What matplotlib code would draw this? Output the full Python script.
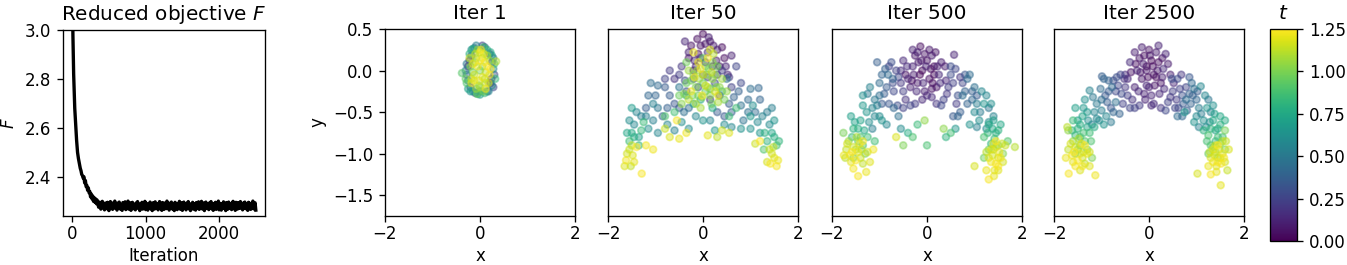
import numpy as np
import matplotlib
matplotlib.use('Agg')
import matplotlib.pyplot as plt
from matplotlib.colors import Normalize
from matplotlib.cm import ScalarMappable

# ---- objective curve ----
iter_head = [0, 5, 10, 15, 20, 27, 35, 50, 60, 73, 85, 100, 110, 120, 130, 140,
             150, 160, 170, 180, 190, 200, 210, 220, 230, 240,
             250, 260, 270, 280, 290, 300, 310, 320, 330, 340]
F_head = [3.40, 3.15, 2.98, 2.90, 2.82, 2.75, 2.68, 2.60, 2.55, 2.50, 2.475, 2.45, 2.435, 2.425, 2.41, 2.405,
          2.395, 2.400, 2.375, 2.385, 2.360, 2.365, 2.345, 2.355, 2.335, 2.340,
          2.318, 2.330, 2.310, 2.322, 2.300, 2.315, 2.296, 2.310, 2.290, 2.305]
iter_tail = list(range(350, 2501, 10))
F_tail = [2.291, 2.276, 2.297, 2.281, 2.268, 2.289, 2.300, 2.274, 2.286, 2.265,
          2.293, 2.279, 2.270, 2.296, 2.284, 2.262, 2.288, 2.299, 2.273, 2.282,
          2.267, 2.294, 2.278, 2.301, 2.271, 2.285, 2.264, 2.292, 2.280, 2.297,
          2.269, 2.287, 2.275, 2.263, 2.295, 2.283, 2.272, 2.298, 2.266, 2.290,
          2.277, 2.301, 2.268, 2.286, 2.294, 2.263, 2.281, 2.296, 2.270, 2.288,
          2.274, 2.265, 2.293, 2.282, 2.299, 2.271, 2.287, 2.262, 2.290, 2.279,
          2.296, 2.268, 2.284, 2.273, 2.300, 2.266, 2.292, 2.281, 2.264, 2.289,
          2.276, 2.297, 2.270, 2.285, 2.262, 2.294, 2.279, 2.268, 2.298, 2.283,
          2.271, 2.290, 2.265, 2.287, 2.299, 2.274, 2.282, 2.263, 2.295, 2.278,
          2.267, 2.293, 2.284, 2.270, 2.301, 2.276, 2.289, 2.264, 2.292, 2.280,
          2.297, 2.269, 2.286, 2.273, 2.262, 2.296, 2.281, 2.291, 2.266, 2.288,
          2.275, 2.300, 2.268, 2.284, 2.294, 2.263, 2.279, 2.297, 2.271, 2.287,
          2.265, 2.292, 2.277, 2.299, 2.270, 2.285, 2.262, 2.290, 2.282, 2.296,
          2.268, 2.288, 2.274, 2.264, 2.295, 2.283, 2.271, 2.298, 2.267, 2.291,
          2.278, 2.300, 2.269, 2.286, 2.293, 2.262, 2.280, 2.297, 2.272, 2.289,
          2.275, 2.266, 2.294, 2.283, 2.299, 2.270, 2.288, 2.263, 2.291, 2.279,
          2.296, 2.267, 2.285, 2.273, 2.301, 2.265, 2.292, 2.281, 2.264, 2.290,
          2.277, 2.298, 2.270, 2.286, 2.262, 2.295, 2.280, 2.268, 2.297, 2.284,
          2.272, 2.291, 2.266, 2.288, 2.300, 2.274, 2.283, 2.263, 2.296, 2.279,
          2.268, 2.294, 2.285, 2.271, 2.299, 2.276, 2.290, 2.265, 2.293, 2.281,
          2.297, 2.270, 2.287, 2.274, 2.263, 2.296, 2.282, 2.292, 2.267, 2.289,
          2.276, 2.301, 2.269, 2.285, 2.294, 2.264]

# ---- particle snapshots: (x, y, t) ----
iter1_pts = [
    (-0.25, 0.05, 0.05), (0.22, -0.15, 0.10), (0.25, 0.10, 0.15), (-0.20, -0.20, 0.20), (0.05, 0.30, 0.25),
    (0.30, -0.05, 0.30), (-0.28, -0.05, 0.35), (0.15, -0.25, 0.40), (-0.12, 0.27, 0.45), (0.20, 0.20, 0.12),
    (-0.18, 0.18, 0.22), (0.00, -0.25, 0.32), (-0.25, -0.12, 0.42), (0.28, -0.20, 0.28),
    (-0.22, 0.12, 0.08), (0.24, -0.10, 0.18), (-0.10, -0.27, 0.26), (0.10, 0.28, 0.34), (0.28, 0.15, 0.44),
    (-0.30, 0.00, 0.55), (0.28, 0.02, 0.60), (-0.15, -0.25, 0.65), (0.00, -0.29, 0.70), (0.22, 0.22, 0.75),
    (-0.22, 0.20, 0.80), (0.08, 0.28, 0.85), (-0.28, -0.15, 0.90), (0.25, -0.18, 0.58), (-0.05, -0.28, 0.68),
    (0.15, 0.25, 0.78), (-0.18, 0.25, 0.62), (0.30, 0.08, 0.88), (-0.25, -0.22, 0.72), (-0.38, -0.03, 0.92),
    (0.10, -0.27, 0.82), (-0.08, 0.30, 0.52),
    (-0.28, 0.08, 0.50), (0.18, -0.25, 0.56), (-0.20, -0.25, 0.64), (0.25, 0.18, 0.70), (-0.15, 0.26, 0.76),
    (0.32, -0.10, 0.84), (-0.30, -0.10, 0.94),
    (0.00, 0.00, 1.00), (-0.10, 0.10, 1.05), (0.10, -0.10, 1.10), (0.05, 0.15, 1.15), (-0.12, -0.12, 1.20),
    (0.15, 0.05, 1.25), (-0.15, -0.02, 0.98), (0.00, -0.20, 1.08), (0.08, 0.20, 1.18), (-0.05, 0.05, 1.22),
    (0.12, -0.02, 1.12), (-0.20, 0.05, 1.02), (0.18, -0.15, 1.16), (0.00, 0.12, 1.25), (-0.08, -0.22, 1.06),
    (0.05, -0.08, 1.20), (-0.10, 0.20, 1.14), (0.20, 0.12, 1.04), (0.34, 0.11, 1.10), (-0.06, -0.28, 0.96),
    (0.02, 0.25, 1.24), (-0.18, -0.15, 1.18), (0.12, -0.22, 1.22), (-0.02, -0.12, 1.16),
    (0.05, 0.05, 1.01), (-0.08, 0.15, 1.07), (0.12, -0.15, 1.13), (-0.15, 0.08, 1.19), (0.10, 0.10, 1.23),
    (-0.02, -0.18, 1.03), (0.15, 0.18, 1.09), (-0.12, -0.05, 1.15), (0.20, -0.05, 1.21), (-0.18, -0.10, 1.11),
    (0.00, 0.22, 1.17), (0.08, -0.25, 0.99), (-0.05, 0.25, 1.05), (0.22, 0.02, 1.25), (-0.22, 0.15, 1.13),
]

iter50_pts = [
    (0.00, 0.44, 0.02), (-0.25, 0.30, 0.05), (0.15, 0.35, 0.08), (-0.10, 0.20, 0.03), (0.30, 0.25, 0.10),
    (0.05, 0.10, 0.12), (-0.30, 0.15, 0.06), (0.45, 0.15, 0.04), (0.20, 0.05, 0.09), (-0.15, 0.05, 0.14),
    (0.60, 0.18, 0.11), (-0.38, 0.35, 0.13), (0.35, 0.05, 0.07), (-0.05, 0.30, 0.05), (0.10, 0.22, 0.15),
    (-0.20, 0.00, 0.10), (0.52, -0.05, 0.12),
    (-0.12, 0.38, 0.04), (0.22, 0.30, 0.09), (-0.30, 0.22, 0.11), (0.40, 0.28, 0.03), (0.05, 0.32, 0.06),
    (-0.18, 0.12, 0.13), (0.28, 0.12, 0.08), (-0.05, 0.15, 0.14), (0.12, 0.40, 0.10), (0.48, 0.05, 0.12),
    (-0.45, 0.05, 0.20), (0.40, 0.00, 0.22), (-0.20, -0.10, 0.25), (0.25, -0.15, 0.28), (-0.60, -0.10, 0.18),
    (0.60, -0.20, 0.24), (0.00, -0.05, 0.27), (-0.35, -0.25, 0.30), (0.35, -0.30, 0.23), (0.70, 0.05, 0.26),
    (-0.70, 0.00, 0.21), (0.15, -0.35, 0.19),
    (-0.50, -0.05, 0.22), (0.55, -0.08, 0.20), (-0.10, -0.20, 0.26), (0.10, -0.08, 0.23), (-0.38, -0.12, 0.28),
    (0.30, -0.05, 0.21), (-0.80, -0.10, 0.25), (0.80, -0.15, 0.27),
    (-0.80, -0.20, 0.35), (0.75, -0.25, 0.38), (-1.00, -0.30, 0.40), (0.95, -0.35, 0.42), (-0.60, -0.40, 0.33),
    (0.55, -0.40, 0.36), (-1.10, -0.15, 0.44), (1.17, -0.21, 0.41), (-0.40, -0.50, 0.45), (0.45, -0.55, 0.34),
    (-1.20, -0.45, 0.37), (1.10, -0.50, 0.43), (-0.85, -0.55, 0.39), (0.85, -0.60, 0.47), (-0.50, -0.20, 0.48),
    (0.50, -0.10, 0.46),
    (-0.70, -0.30, 0.36), (0.65, -0.32, 0.39), (-0.95, -0.18, 0.42), (1.00, -0.22, 0.44), (-0.50, -0.45, 0.34),
    (0.60, -0.50, 0.37), (-1.15, -0.30, 0.41), (1.20, -0.35, 0.40), (-0.30, -0.45, 0.43), (0.30, -0.50, 0.35),
    (-0.75, -0.45, 0.38), (0.80, -0.42, 0.46), (-0.95, -0.45, 0.48), (0.95, -0.50, 0.45),
    (-1.30, -0.55, 0.52), (1.25, -0.55, 0.55), (-1.45, -0.65, 0.58), (1.40, -0.65, 0.60), (-1.15, -0.70, 0.62),
    (1.20, -0.75, 0.65), (-1.50, -0.45, 0.68), (1.45, -0.45, 0.53), (-0.95, -0.75, 0.57), (1.00, -0.70, 0.63),
    (-0.30, -0.70, 0.60), (0.25, -0.72, 0.66), (-0.60, -0.72, 0.55), (0.60, -0.68, 0.58), (-1.05, -0.40, 0.54),
    (1.05, -0.42, 0.61), (0.00, -0.60, 0.64), (-1.35, -0.80, 0.70),
    (-1.40, -0.50, 0.56), (1.35, -0.50, 0.51), (-1.20, -0.55, 0.53), (1.15, -0.62, 0.59), (-1.55, -0.60, 0.61),
    (1.50, -0.60, 0.64), (-0.75, -0.65, 0.57), (0.80, -0.70, 0.63), (-1.05, -0.60, 0.54), (1.00, -0.55, 0.66),
    (-0.45, -0.62, 0.62), (0.45, -0.65, 0.60), (-0.15, -0.55, 0.58), (0.15, -0.60, 0.56),
    (-1.50, -0.75, 0.75), (1.50, -0.80, 0.78), (-1.35, -0.90, 0.82), (1.35, -0.85, 0.80), (-1.55, -0.85, 0.85),
    (1.55, -0.90, 0.88), (-0.80, -0.55, 0.90), (0.70, -0.45, 0.86), (-0.20, -0.40, 0.72), (0.20, -0.45, 0.76),
    (-1.25, -0.62, 0.84), (1.28, -0.95, 0.90),
    (-1.45, -0.80, 0.77), (1.45, -0.75, 0.73), (-1.60, -0.75, 0.74), (1.60, -0.85, 0.81), (-1.30, -0.72, 0.83),
    (1.30, -0.75, 0.79), (-0.60, -0.50, 0.87), (0.55, -0.55, 0.85), (-0.35, -0.30, 0.78), (0.40, -0.25, 0.80),
    (-0.05, -0.35, 0.75), (0.15, -0.22, 0.88),
    (0.00, -0.15, 0.95), (-0.20, -0.05, 1.00), (0.20, -0.10, 1.05), (-0.10, -0.30, 0.98), (0.15, -0.30, 1.02),
    (-0.35, -0.15, 0.96), (0.35, -0.20, 1.04), (0.05, 0.05, 1.00), (-0.05, -0.45, 1.08), (0.30, 0.05, 0.97),
    (-0.30, 0.00, 1.06), (0.10, -0.20, 1.10), (-0.15, -0.20, 1.01), (0.45, -0.35, 0.99), (-0.45, -0.40, 1.03),
    (0.05, -0.25, 0.94), (-0.25, -0.12, 0.99), (0.25, -0.05, 1.03), (-0.08, -0.10, 1.06), (0.18, -0.40, 0.97),
    (-0.40, -0.28, 1.01), (0.40, -0.10, 1.07), (0.00, 0.15, 0.95), (-0.15, -0.40, 1.09), (0.20, 0.10, 1.02),
    (-0.35, 0.10, 0.98), (0.08, -0.05, 1.04), (-0.22, -0.30, 1.00), (0.50, -0.25, 1.05), (-0.50, -0.30, 0.96),
    (0.32, -0.38, 1.08), (-0.02, -0.32, 1.03), (0.12, 0.02, 0.99), (-0.12, 0.00, 1.07), (0.28, -0.20, 1.01),
    (0.00, -0.05, 1.15), (-0.10, 0.10, 1.20), (0.25, -0.25, 1.18), (-0.25, -0.25, 1.22), (0.10, 0.15, 1.25),
    (-1.50, -0.90, 1.12), (-1.60, -1.00, 1.16), (-1.45, -1.10, 1.20), (-1.29, -1.24, 1.24), (-1.65, -1.15, 1.18),
    (1.40, -0.95, 1.14), (1.50, -1.05, 1.19), (1.55, -1.15, 1.23), (1.35, -1.10, 1.17), (-0.80, -0.70, 1.15),
    (-0.50, -0.82, 1.21), (0.30, -0.80, 1.13), (0.55, -0.75, 1.19), (-1.05, -0.95, 1.22), (1.20, -0.85, 1.25),
    (0.15, 0.25, 1.17), (-0.20, 0.22, 1.21),
    (0.05, -0.18, 1.16), (-0.18, -0.08, 1.21), (0.18, -0.02, 1.14), (-0.05, 0.02, 1.23), (0.32, -0.30, 1.19),
    (-0.30, -0.35, 1.12), (-0.02, -0.30, 1.25), (0.22, 0.20, 1.11), (-1.55, -0.95, 1.14), (-1.48, -1.02, 1.18),
    (-1.62, -1.08, 1.22), (-1.40, -0.92, 1.25), (-1.52, -1.15, 1.13), (1.45, -1.00, 1.16), (1.58, -1.08, 1.21),
    (1.42, -1.12, 1.24), (1.48, -0.92, 1.12), (-0.70, -0.80, 1.18), (-0.35, -0.75, 1.22), (0.40, -0.72, 1.16),
    (0.10, -0.78, 1.20), (-1.20, -0.90, 1.23), (1.10, -0.88, 1.15), (-0.55, -0.60, 1.24),
]

iter500_pts = [
    (-0.10, 0.00, 0.02), (0.05, -0.10, 0.05), (-0.20, -0.15, 0.08), (0.15, 0.05, 0.03), (-0.05, -0.25, 0.10),
    (-0.30, 0.05, 0.12), (0.20, -0.20, 0.06), (-0.14, 0.29, 0.04), (0.10, 0.18, 0.09), (0.25, -0.05, 0.14),
    (-0.35, -0.20, 0.11), (0.00, -0.30, 0.13), (-0.25, 0.18, 0.07), (0.00, 0.12, 0.05), (0.57, 0.19, 0.12),
    (-0.42, 0.05, 0.15), (0.30, 0.10, 0.10), (-0.40, -0.10, 0.13), (0.10, -0.32, 0.15), (-0.15, -0.05, 0.01),
    (-0.05, 0.20, 0.06), (0.12, -0.15, 0.03), (-0.28, -0.05, 0.09), (-0.50, 0.12, 0.14),
    (0.08, 0.02, 0.04), (-0.18, 0.10, 0.09), (0.22, 0.05, 0.11), (-0.32, -0.12, 0.03), (0.10, -0.22, 0.06),
    (-0.08, -0.15, 0.13), (0.05, 0.25, 0.08), (-0.22, -0.25, 0.14), (0.28, -0.15, 0.15), (-0.45, -0.05, 0.05),
    (0.38, 0.05, 0.09), (-0.02, 0.05, 0.12), (-0.20, 0.22, 0.10), (-0.10, -0.35, 0.14), (-0.55, 0.00, 0.15),
    (0.40, -0.12, 0.13), (-0.12, 0.12, 0.07), (0.15, -0.05, 0.02), (-0.30, 0.25, 0.11), (0.18, 0.22, 0.06),
    (-0.55, -0.15, 0.20), (0.45, -0.20, 0.22), (-0.65, 0.00, 0.25), (0.50, -0.05, 0.28), (-0.45, -0.35, 0.18),
    (0.35, -0.35, 0.24), (-0.70, -0.25, 0.27), (0.65, -0.30, 0.30), (-0.80, 0.05, 0.23), (0.60, 0.02, 0.26),
    (-0.25, -0.40, 0.21), (0.20, -0.40, 0.19), (-0.62, -0.42, 0.29), (0.75, -0.15, 0.25),
    (-0.50, -0.25, 0.22), (0.42, -0.28, 0.20), (-0.60, -0.08, 0.26), (0.55, -0.15, 0.23), (-0.72, -0.15, 0.28),
    (0.62, -0.40, 0.21), (-0.35, -0.42, 0.25), (0.30, -0.42, 0.27), (-0.75, 0.10, 0.30), (0.70, -0.08, 0.19),
    (-0.50, -0.45, 0.24), (0.50, 0.05, 0.29),
    (-0.85, -0.20, 0.35), (0.80, -0.25, 0.38), (-0.95, -0.05, 0.40), (0.85, -0.10, 0.42), (-0.80, -0.40, 0.33),
    (0.70, -0.50, 0.36), (-1.00, -0.30, 0.44), (0.95, -0.35, 0.41), (-0.60, -0.55, 0.45), (0.55, -0.55, 0.34),
    (-1.05, 0.10, 0.37), (0.90, -0.05, 0.43), (-0.72, -0.10, 0.39), (1.00, -0.20, 0.45),
    (-0.90, -0.28, 0.36), (0.85, -0.40, 0.39), (-0.82, -0.05, 0.42), (0.75, -0.30, 0.44), (-0.95, -0.40, 0.34),
    (0.95, -0.25, 0.37), (-0.70, -0.45, 0.41), (0.65, -0.55, 0.40), (-1.00, -0.15, 0.43), (1.05, -0.30, 0.35),
    (-0.88, 0.02, 0.38), (0.80, -0.05, 0.33),
    (-1.10, -0.35, 0.50), (1.05, -0.40, 0.52), (-1.20, -0.20, 0.55), (1.15, -0.25, 0.58), (-1.00, -0.55, 0.60),
    (1.10, -0.60, 0.62), (-1.27, -0.50, 0.65), (1.30, -0.45, 0.48), (-0.85, -0.65, 0.57), (0.90, -0.65, 0.63),
    (-1.15, -0.70, 0.53), (1.25, -0.70, 0.60), (-1.35, -0.30, 0.62), (1.40, -0.55, 0.55), (-0.55, -0.70, 0.60),
    (0.60, -0.70, 0.65),
    (-1.15, -0.45, 0.56), (1.12, -0.50, 0.51), (-1.05, -0.42, 0.53), (1.00, -0.50, 0.59), (-1.22, -0.62, 0.61),
    (1.20, -0.40, 0.64), (-1.25, -0.28, 0.49), (1.25, -0.30, 0.57), (-0.95, -0.60, 0.63), (1.05, -0.68, 0.54),
    (-1.35, -0.42, 0.66), (1.35, -0.40, 0.62), (-1.10, -0.55, 0.58), (1.30, -0.62, 0.60),
    (-1.40, -0.60, 0.72), (1.30, -0.65, 0.75), (-1.55, -0.70, 0.80), (1.45, -0.75, 0.78), (-1.25, -0.80, 0.85),
    (1.20, -0.80, 0.88), (-1.60, -0.55, 0.70), (1.55, -0.65, 0.74), (-1.35, -0.90, 0.90), (1.35, -0.88, 0.82),
    (-0.40, -0.75, 0.76), (0.40, -0.80, 0.80), (-0.20, -0.65, 0.84), (-1.10, -0.85, 0.86), (0.00, -0.90, 0.88),
    (1.70, -0.85, 0.90),
    (-1.45, -0.70, 0.77), (1.38, -0.70, 0.73), (-1.32, -0.72, 0.74), (1.28, -0.75, 0.81), (-1.58, -0.80, 0.83),
    (1.50, -0.72, 0.79), (-1.40, -0.80, 0.87), (1.42, -0.82, 0.85), (-1.52, -0.62, 0.71), (1.40, -0.60, 0.70),
    (-0.30, -0.80, 0.89), (0.50, -0.75, 0.87),
    (-1.45, -0.85, 0.95), (1.30, -0.95, 0.98), (-1.30, -1.00, 1.00), (1.50, -0.90, 1.02), (-1.65, -0.85, 1.05),
    (1.20, -1.05, 0.96), (-0.50, -0.90, 1.00), (0.35, -0.70, 1.03), (-1.55, -1.05, 0.97), (1.60, -1.00, 1.01),
    (-0.05, -0.60, 1.04), (-1.76, -0.75, 0.99),
    (-1.50, -0.95, 1.10), (1.40, -0.95, 1.12), (-1.40, -1.05, 1.15), (1.50, -1.05, 1.18), (-1.60, -1.10, 1.20),
    (1.35, -1.10, 1.22), (-1.35, -0.85, 1.25), (1.45, -0.85, 1.25), (-1.70, -0.95, 1.13), (1.60, -1.10, 1.16),
    (-1.20, -1.10, 1.19), (1.25, -1.20, 1.21), (-1.55, -1.18, 1.23), (1.85, -0.92, 1.11), (-1.45, -1.27, 1.24),
    (1.41, -1.27, 1.20), (-1.13, -0.95, 1.22), (1.00, -1.15, 1.17), (-1.72, -1.05, 1.12), (1.65, -0.90, 1.14),
    (-0.65, -0.80, 1.18), (1.30, -1.31, 1.24), (-1.28, -1.22, 1.21), (1.50, -1.20, 1.19),
    (-1.55, -0.92, 1.15), (1.45, -0.92, 1.13), (-1.45, -0.98, 1.19), (1.38, -1.02, 1.16), (-1.62, -1.02, 1.22),
    (1.52, -0.98, 1.21), (-1.38, -0.95, 1.11), (1.30, -1.05, 1.18), (-1.50, -1.08, 1.24), (1.45, -1.12, 1.23),
    (-1.68, -0.88, 1.17), (1.58, -0.88, 1.14), (-1.42, -0.88, 1.20), (1.40, -0.88, 1.15), (-1.35, -1.12, 1.13),
    (1.50, -1.15, 1.24), (-1.58, -0.98, 1.25), (1.35, -0.95, 1.19), (-1.48, -0.80, 1.10), (1.55, -1.05, 1.22),
    (-1.25, -0.98, 1.16), (1.25, -0.98, 1.12), (-1.75, -1.02, 1.21), (1.42, -1.20, 1.20),
]

iter2500_pts = [
    (-0.05, 0.05, 0.02), (0.10, -0.05, 0.05), (-0.15, -0.10, 0.08), (0.20, 0.10, 0.03), (0.00, -0.20, 0.10),
    (-0.25, 0.00, 0.12), (0.25, -0.15, 0.06), (-0.10, 0.18, 0.04), (0.15, 0.22, 0.09), (0.30, 0.02, 0.14),
    (-0.30, -0.20, 0.11), (0.05, -0.30, 0.13), (-0.20, 0.15, 0.07), (0.00, 0.25, 0.05), (0.35, 0.20, 0.12),
    (-0.40, 0.10, 0.15), (0.45, -0.05, 0.10), (-0.45, -0.10, 0.13), (0.10, -0.40, 0.15), (-0.08, -0.35, 0.12),
    (0.22, -0.28, 0.14), (-0.30, 0.22, 0.10), (0.05, 0.12, 0.01), (-0.02, -0.08, 0.03), (0.18, 0.00, 0.07),
    (-0.18, -0.02, 0.06),
    (0.08, 0.05, 0.04), (-0.12, 0.08, 0.09), (0.28, -0.08, 0.11), (-0.28, 0.08, 0.03), (0.12, -0.18, 0.06),
    (-0.05, -0.18, 0.13), (0.02, 0.18, 0.08), (-0.22, -0.25, 0.14), (0.32, -0.22, 0.15), (-0.38, -0.02, 0.05),
    (0.40, 0.08, 0.09), (0.20, 0.30, 0.12), (-0.15, 0.28, 0.10), (0.05, -0.42, 0.14), (-0.50, -0.05, 0.15),
    (0.52, -0.15, 0.13), (-0.05, 0.00, 0.07), (0.15, -0.08, 0.02), (-0.10, -0.28, 0.11), (0.28, 0.15, 0.06),
    (-0.50, -0.20, 0.20), (0.50, -0.25, 0.22), (-0.60, -0.05, 0.25), (0.60, -0.10, 0.28), (-0.35, -0.35, 0.18),
    (0.40, -0.38, 0.24), (-0.70, -0.25, 0.27), (0.70, -0.30, 0.30), (-0.55, -0.40, 0.23), (0.55, -0.45, 0.26),
    (-0.20, -0.42, 0.21), (0.25, -0.45, 0.19), (-0.75, -0.12, 0.29), (0.78, -0.20, 0.25),
    (-0.45, -0.30, 0.22), (0.45, -0.32, 0.20), (-0.65, -0.18, 0.26), (0.65, -0.22, 0.23), (-0.58, -0.28, 0.28),
    (0.58, -0.35, 0.21), (-0.40, -0.45, 0.25), (0.35, -0.48, 0.27), (-0.68, -0.08, 0.30), (0.68, -0.05, 0.19),
    (-0.30, -0.45, 0.24), (0.48, -0.10, 0.29), (-0.52, -0.10, 0.18), (0.62, -0.45, 0.27),
    (-0.85, -0.25, 0.35), (0.85, -0.28, 0.38), (-0.95, -0.10, 0.40), (0.90, -0.15, 0.42), (-0.80, -0.45, 0.33),
    (0.80, -0.48, 0.36), (-1.00, -0.35, 0.44), (1.00, -0.35, 0.41), (-0.70, -0.38, 0.45), (0.72, -0.40, 0.34),
    (-0.99, -0.07, 0.37), (0.60, -0.55, 0.43), (-0.62, -0.52, 0.39), (0.95, -0.22, 0.45),
    (-0.88, -0.38, 0.36), (0.88, -0.40, 0.39), (-0.78, -0.20, 0.42), (0.78, -0.35, 0.44), (-0.92, -0.30, 0.34),
    (0.92, -0.30, 0.37), (-0.75, -0.50, 0.41), (0.70, -0.55, 0.40), (-1.02, -0.22, 0.43), (1.02, -0.25, 0.35),
    (-0.85, -0.12, 0.38), (0.85, -0.08, 0.33),
    (-1.10, -0.40, 0.50), (1.05, -0.45, 0.52), (-1.25, -0.24, 0.55), (1.09, -0.19, 0.58), (-1.05, -0.60, 0.60),
    (1.15, -0.60, 0.62), (-1.30, -0.50, 0.65), (1.25, -0.35, 0.48), (-0.90, -0.55, 0.57), (0.95, -0.62, 0.63),
    (-1.20, -0.65, 0.53), (1.20, -0.68, 0.60), (-1.35, -0.35, 0.62), (1.30, -0.50, 0.55), (-0.80, -0.62, 0.50),
    (0.75, -0.50, 0.65),
    (-1.15, -0.50, 0.56), (1.10, -0.52, 0.51), (-1.00, -0.48, 0.53), (1.00, -0.55, 0.59), (-1.28, -0.60, 0.61),
    (1.22, -0.45, 0.64), (-1.18, -0.32, 0.49), (1.18, -0.30, 0.57), (-0.95, -0.65, 0.63), (1.05, -0.68, 0.54),
    (-1.38, -0.45, 0.66), (1.35, -0.42, 0.62), (-1.10, -0.58, 0.58), (1.28, -0.62, 0.60),
    (-1.40, -0.55, 0.72), (1.35, -0.60, 0.75), (-1.50, -0.70, 0.80), (1.45, -0.70, 0.78), (-1.25, -0.75, 0.85),
    (1.25, -0.78, 0.88), (-1.55, -0.45, 0.70), (1.50, -0.55, 0.74), (-1.35, -0.85, 0.90), (1.40, -0.85, 0.82),
    (-1.15, -0.68, 0.76), (1.15, -0.72, 0.80), (-1.60, -0.60, 0.84), (1.55, -0.80, 0.86), (-1.45, -0.80, 0.88),
    (1.30, -0.90, 0.90),
    (-1.45, -0.65, 0.77), (1.40, -0.72, 0.73), (-1.30, -0.68, 0.74), (1.30, -0.70, 0.81), (-1.55, -0.78, 0.83),
    (1.50, -0.65, 0.79), (-1.38, -0.75, 0.87), (1.45, -0.80, 0.85), (-1.50, -0.60, 0.71), (1.38, -0.52, 0.70),
    (-1.22, -0.85, 0.89), (1.22, -0.85, 0.87), (-1.62, -0.72, 0.82), (1.60, -0.60, 0.76),
    (-1.45, -0.90, 0.95), (1.35, -0.92, 0.98), (-1.30, -0.95, 1.00), (1.50, -0.88, 1.02), (-1.60, -0.85, 1.05),
    (1.25, -1.00, 0.96), (-1.20, -1.05, 1.00), (1.45, -1.05, 1.03), (-1.55, -1.00, 0.97), (1.60, -0.95, 1.01),
    (-1.70, -0.72, 1.04), (1.60, -0.72, 0.99),
    (-1.50, -0.95, 1.10), (1.40, -0.98, 1.12), (-1.40, -1.05, 1.15), (1.50, -1.05, 1.18), (-1.60, -1.10, 1.20),
    (1.35, -1.10, 1.22), (-1.35, -0.90, 1.25), (1.45, -0.90, 1.25), (-1.70, -0.95, 1.13), (1.60, -1.10, 1.16),
    (-1.25, -1.15, 1.19), (1.25, -1.15, 1.21), (-1.55, -1.15, 1.23), (1.55, -0.85, 1.11), (-1.69, -1.24, 1.24),
    (1.51, -1.38, 1.20), (-1.13, -1.26, 1.22), (1.02, -1.24, 1.17), (-1.72, -0.68, 1.12), (1.65, -1.20, 1.14),
    (-1.45, -1.20, 1.18), (1.30, -1.25, 1.24), (-1.30, -1.00, 1.21), (1.42, -1.15, 1.19),
    (-1.55, -0.92, 1.15), (1.48, -0.95, 1.13), (-1.45, -1.00, 1.19), (1.38, -1.02, 1.16), (-1.62, -1.02, 1.22),
    (1.55, -1.00, 1.21), (-1.38, -0.98, 1.11), (1.30, -1.05, 1.18), (-1.50, -1.08, 1.24), (1.45, -1.10, 1.23),
    (-1.65, -0.88, 1.17), (1.62, -0.85, 1.14), (-1.42, -0.88, 1.20), (1.40, -0.90, 1.15), (-1.35, -1.12, 1.13),
    (1.52, -1.12, 1.24), (-1.58, -0.98, 1.25), (1.35, -0.95, 1.19), (-1.48, -0.82, 1.10), (1.58, -1.05, 1.22),
    (-1.25, -0.98, 1.16), (1.28, -0.98, 1.12), (-1.75, -1.05, 1.21), (1.68, -0.95, 1.18), (-1.40, -1.15, 1.23),
    (1.42, -1.22, 1.20),
]

snapshot_titles = ['Iter 1', 'Iter 50', 'Iter 500', 'Iter 2500']
snapshots = [iter1_pts, iter50_pts, iter500_pts, iter2500_pts]

t_min, t_max = 0.0, 1.25
cbar_ticks = [0.0, 0.25, 0.5, 0.75, 1.0, 1.25]

W, H = 1347, 265
DPI = 120
fig = plt.figure(figsize=(W / DPI, H / DPI), dpi=DPI)

def px_axes(x0, y0, x1, y1):
    # pixel box (left, top, right, bottom) -> figure fraction axes
    return fig.add_axes([x0 / W, 1 - y1 / H, (x1 - x0) / W, (y1 - y0) / H])
# End Function

# left panel: objective
ax_f = px_axes(63, 30, 265, 216)
iters = iter_head + iter_tail
F_vals = F_head + F_tail
ax_f.plot(iters, F_vals, color='black', lw=2.0)
ax_f.set_ylim(2.24, 3.0)
ax_f.set_xlim(-125, 2625)
ax_f.set_yticks([2.4, 2.6, 2.8, 3.0])
ax_f.set_xticks([0, 1000, 2000])
ax_f.tick_params(axis='x', pad=2)
ax_f.set_title('Reduced objective $F$')
ax_f.set_xlabel('Iteration', labelpad=2.5)
ax_f.set_ylabel('$F$')

norm = Normalize(vmin=t_min, vmax=t_max)
lefts = [385, 608, 832, 1054]

for i, (title, pts) in enumerate(zip(snapshot_titles, snapshots)):
    ax = px_axes(lefts[i], 29, lefts[i] + 190, 216)
    pts = sorted(pts, key=lambda p: p[2])
    xs = [p[0] for p in pts]
    ys = [p[1] for p in pts]
    ts = [p[2] for p in pts]
    ax.scatter(xs, ys, c=ts, cmap='viridis', norm=norm, s=17, alpha=0.45)
    ax.set_xlim(-2, 2)
    ax.set_ylim(-1.75, 0.5)
    ax.set_xticks([-2, 0, 2])
    ax.tick_params(axis='x', pad=2)
    ax.set_title(title)
    ax.set_xlabel('x', labelpad=2.5)
    if i == 0:
        ax.set_yticks([0.5, 0.0, -0.5, -1.0, -1.5])
        ax.set_ylabel('y')
    else:
        ax.set_yticks([])
# End For

# colorbar
cax = px_axes(1270, 29, 1297, 241)
sm = ScalarMappable(norm=norm, cmap='viridis')
cb = fig.colorbar(sm, cax=cax, ticks=cbar_ticks)
cb.ax.set_yticklabels(['%.2f' % v for v in cbar_ticks])
cb.ax.set_title('$t$')

fig.savefig('out.png', dpi=DPI)
